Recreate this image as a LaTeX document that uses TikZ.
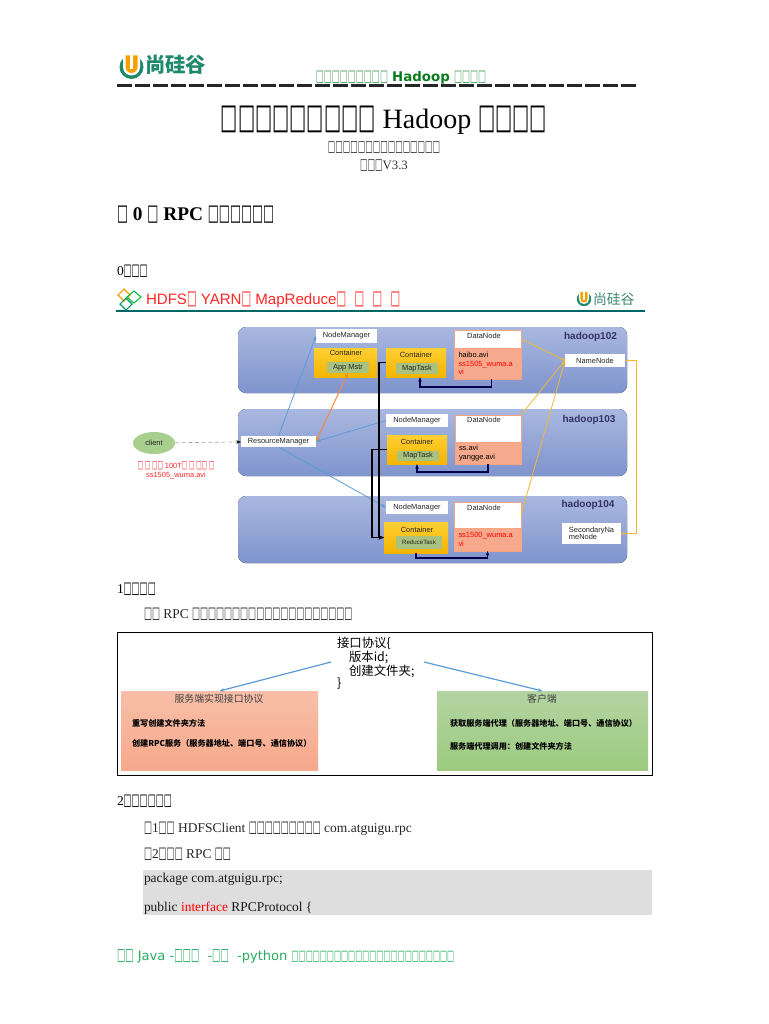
\documentclass[tikz,border=0pt]{standalone}
\usepackage{fontspec}
\usepackage{xcolor}
\usetikzlibrary{arrows.meta, shapes.geometric}
\setmainfont{Liberation Serif}
\newfontfamily\headfont{DejaVu Sans}
\newfontfamily\arialfont{Liberation Sans}
\newfontfamily\cjk{Noto Sans CJK SC}
\newfontfamily\boxfont[Scale=1.3,FakeStretch=.52]{DejaVu Sans}
\newcommand{\fsize}[1]{\fontsize{#1}{#1}\selectfont}
\newcommand{\tofu}[1]{{\boxfont #1}}
\newcommand{\btofu}[1]{{\fsize{9.4}\boxfont #1}}
\definecolor{logogreen}{HTML}{1F8A6B}
\definecolor{logoorange}{HTML}{F5A000}
\definecolor{headgreen}{HTML}{0B7A1E}
\definecolor{footgreen}{HTML}{2ECC71}
\definecolor{panellight}{HTML}{A9B8DF}
\definecolor{paneldark}{HTML}{7F94CD}
\definecolor{arrowblue}{HTML}{5B9BD5}
\definecolor{lineyellow}{HTML}{F5B731}
\definecolor{salmon}{HTML}{F6A98C}
\definecolor{goldtop}{HTML}{FFCF33}
\definecolor{goldlow}{HTML}{F5B400}
\definecolor{taskgreen}{HTML}{A9C27F}
\definecolor{clientgreen}{HTML}{A8CF8E}
\definecolor{greentop}{HTML}{B4D4A2}
\definecolor{greenlow}{HTML}{9CCB80}
\begin{document}
\begin{tikzpicture}[
  x=0.75pt, y=-0.75pt,
  every node/.style={inner sep=0pt, outer sep=0pt},
  dim/.style 2 args={minimum width=#1*0.75pt, minimum height=#2*0.75pt},
  bodytext/.style={anchor=base west, font=\fsize{10.1}},
  small/.style={font=\arialfont\fsize{5.6}, text=black!85},
  whitebox/.style={small, fill=white},
  panel/.style={rounded corners=6pt, top color=panellight, bottom color=paneldark},
  host/.style={font=\arialfont\bfseries\fsize{7.5}, text=black!70!blue!60!gray},
  contbox/.style={small, top color=goldtop, bottom color=goldlow},
  taskbox/.style={small, fill=taskgreen},
  dnlow/.style={font=\arialfont\fontsize{5.6}{6.4}\selectfont, fill=salmon, draw=salmon!90!orange, line width=0.4pt, align=left},
  dntop/.style={small, fill=white, draw=salmon!90!orange, line width=0.4pt},
  blueline/.style={draw=arrowblue, line width=0.6pt, -{Stealth[length=3.5pt]}},
  yellowline/.style={draw=lineyellow, line width=0.6pt, -{Stealth[length=3pt]}},
  blackline/.style={draw=black, line width=1.1pt, -{Stealth[length=4pt]}},
  elbow/.style={draw=black!70!blue, line width=1pt, -{Stealth[length=3.5pt]}},
  ulogo/.pic={
    \fill[logogreen] (0,0) circle (12);
    \fill[white] (-8.5,-13) -- (-8.5,0) arc[start angle=180, end angle=0, radius=8.5] -- (8.5,-13) -- cycle;
    \fill[logoorange] (-6,-11.5) -- (-6,0) arc[start angle=180, end angle=0, radius=6] -- (6,-11.5) -- cycle;
    \draw[white, line width=2pt] (0,-12) -- (0,2);
  }
]
\useasboundingbox (0,0) rectangle (768,1024);

\pic at (131.5,67) {ulogo};
\node[anchor=base west, font=\cjk\bfseries\fsize{15.3}, text=logogreen] (logotext) at (145,73) {尚硅谷};
\node[font=\headfont\fsize{10}, text=headgreen!70!white, anchor=base] (headtext) at (401,81)
  {{\fsize{9.4}\tofu{□□□□□□□□□}} \textcolor{headgreen}{\bfseries Hadoop} {\fsize{9.4}\tofu{□□□□}}};
\coordinate (ruleL) at (117,85.5);
\coordinate (ruleR) at (638,85.5);
\draw[black!85, line width=1.6pt, dash pattern=on 11.2pt off 2.3pt] (ruleL) -- (ruleR);

\node[anchor=base, font=\fsize{21}] (title) at (384,128)
  {{\fsize{20.2}\tofu{□□□□□□□□□}} Hadoop {\fsize{20.2}\tofu{□□□□}}};
\node[anchor=base, font=\fsize{8.8}, text=black!80] (subtitle) at (384,151) {\tofu{□□□□□□□□□□□□□□□}};
\node[anchor=base, font=\fsize{9.6}, text=black!80] (version) at (384,169) {{\fsize{8.8}\tofu{□□□}}V3.3};
\node[anchor=base west, font=\bfseries\fsize{14.5}] (section) at (117,220)
  {{\fsize{13}\tofu{□}} 0 {\fsize{13}\tofu{□}} RPC {\fsize{13}\tofu{□□□□□□}}};
\node[bodytext] (item0) at (117,275) {0\btofu{□□□}};

\node[anchor=west, font=\arialfont\fsize{11.3}, text=red!85!white] (bannertitle) at (146,299.5)
  {HDFS\tofu{□} YARN\tofu{□} MapReduce\tofu{□}\ \ \tofu{□}\ \ \tofu{□}\ \ \tofu{□}};
\draw[orange!80!yellow, line width=0.8pt] (124,289) -- (130,295) -- (124,301) -- (118,295) -- cycle;
\draw[green!50!teal, line width=0.8pt] (134,291) -- (141,297) -- (134,303) -- (127,297) -- cycle;
\draw[teal!80!green, line width=0.8pt] (126,298) -- (132,304) -- (126,310) -- (120,304) -- cycle;
\coordinate (bannerL) at (116,311);
\coordinate (bannerR) at (645,311);
\draw[teal!80!black, line width=0.9pt] (bannerL) -- (bannerR);
\pic[scale=0.6] at (584,299) {ulogo};
\node[anchor=west, font=\cjk\fsize{10.4}, text=logogreen!70!gray] (bannerlogo) at (593,299.5) {尚硅谷};

\fill[panel] (238,327) rectangle (627,393);
\fill[panel] (238,409) rectangle (627,476);
\fill[panel] (238,496) rectangle (627,563);
\node[host] (host1) at (590.5,337) {hadoop102};
\node[host] (host2) at (589,420) {hadoop103};
\node[host] (host3) at (588,505) {hadoop104};

\node[ellipse, fill=clientgreen, minimum width=31.5pt, minimum height=16.5pt, small] (client) at (154,443) {client};
\node[font=\arialfont\fsize{5.6}, text=red!85!white, align=center] (clientnote) at (176,470)
  {{\fsize{6.3}\tofu{□ □ □□}} 100T{\fsize{6.3}\tofu{□ □ □□ □}}\\[1pt]ss1505\_wuma.avi};
\node[whitebox, dim={75}{11}] (rm) at (278.5,441.5) {ResourceManager};

\node[whitebox, dim={61}{14}] (nm1) at (346.5,336) {NodeManager};
\node[contbox, dim={63}{29}] (ct1) at (345.5,362.5) {};
\node[small] (ct1label) at (346,353) {Container};
\node[taskbox, dim={42}{11}] (am) at (348,367.5) {App Mstr};
\node[contbox, dim={60}{29}] (ct2) at (416,362.5) {};
\node[small] (ct2label) at (416,355) {Container};
\node[taskbox, dim={42}{11}] (map1) at (417,368.5) {MapTask};
\node[dntop, dim={67}{18}] (dn1top) at (487.5,339) {};
\node[small] (dn1label) at (484,335.5) {DataNode};
\node[dnlow, dim={67}{31}, text width=58*0.75pt] (dn1low) at (487.5,363.5)
  {haibo.avi\\\textcolor{red}{ss1505\_wuma.a}\\\textcolor{red}{vi}};
\node[whitebox, dim={60}{13}] (nn) at (595,360.5) {NameNode};

\node[whitebox, dim={62}{13}] (nm2) at (417,420.5) {NodeManager};
\node[contbox, dim={60}{29}] (ct2b) at (417,449.5) {};
\node[small] (ct2blabel) at (417,441.5) {Container};
\node[taskbox, dim={42}{10}] (map2) at (418,456) {MapTask};
\node[dntop, dim={66}{27}] (dn2top) at (488,428.5) {};
\node[small] (dn2label) at (484,420) {DataNode};
\node[dnlow, dim={66}{22}, text width=58*0.75pt] (dn2low) at (488,453)
  {ss.avi\\yangge.avi};

\node[whitebox, dim={62}{13}] (nm3) at (417,507.5) {NodeManager};
\node[contbox, dim={64}{31}] (ct3) at (416,537.5) {};
\node[small] (ct3label) at (417,529.5) {Container};
\node[taskbox, dim={46}{13}, font=\arialfont\fsize{4.6}] (reduce) at (419,542.5) {ReduceTask};
\node[dntop, dim={67}{26}] (dn3top) at (487.5,515) {};
\node[small] (dn3label) at (484,508) {DataNode};
\node[dnlow, dim={67}{23}, text width=58*0.75pt, text=red] (dn3low) at (487.5,539.5)
  {ss1500\_wuma.a\\vi};
\node[whitebox, dim={59}{21}, align=left] (snn) at (591.5,533.5) {SecondaryNa\\meNode};

\draw[densely dashed, draw=gray!70, line width=0.5pt, -{Stealth[length=3.5pt, black]}] (client) -- (rm);
\draw[blueline] (rm.north) -- (nm1.west);
\draw[blueline] (nm2.west) -- (rm.east);
\draw[blueline] (rm.south) -- (nm3.west);
\draw[draw=orange!80!red!80!white, line width=0.7pt, {Stealth[length=3pt]}-{Stealth[length=3pt]}] (am.south) -- (rm.east);
\draw[blackline] (ct2.west) -- ++(-7,0) |- (ct3.west);
\draw[blackline] (ct2b.west) -- ++(-15,0) |- (ct3.west);
\draw[elbow] ([xshift=3pt]dn1low.south) -- ++(0,8) -| ([xshift=3pt]ct2.south);
\draw[elbow] (dn2low.south) -- ++(0,8) -| (ct2b.south);
\draw[elbow] (ct3.south) -- ++(0,5) -| (dn3low.south);
\draw[yellowline] (dn1top.east) -- (nn.west);
\draw[yellowline] (dn2top.north east) -- (nn.west);
\draw[yellowline] (dn3top.east) -- (nn.west);
\draw[draw=lineyellow, line width=0.6pt, {Stealth[length=2.5pt]}-{Stealth[length=2.5pt]}] (nn.east) -- ++(11,0) |- (snn.east);

\node[bodytext] (item1) at (117,593) {1\btofu{□□□□}};
\node[bodytext, text=black!85] (item1a) at (144,618) {\btofu{□□} RPC \btofu{□□□□□□□□□□□□□□□□□□□□}};

\draw[black, line width=0.7pt] (117,632) rectangle (652,775);
\node[anchor=north west, top color=salmon!75!white, bottom color=salmon, dim={197}{79}] (server) at (121,691) {};
\node[anchor=north west, top color=greentop, bottom color=greenlow, dim={211}{79}] (customer) at (437,691) {};
\node[anchor=north west, font=\cjk\fsize{9.3}, align=left] (protocol) at (337,637) {接口协议\{\\\hspace*{9pt}版本id;\\\hspace*{9pt}创建文件夹;\\\}};
\coordinate (protoL) at (331,662);
\coordinate (protoR) at (424,662);
\draw[blueline, line width=0.9pt] (protoL) -- (server.north);
\draw[blueline, line width=0.9pt] (protoR) -- (customer.north);
\node[font=\cjk\fsize{7.4}, text=black!75] (servertitle) at (219,699) {服务端实现接口协议};
\node[anchor=west, font=\cjk\bfseries\fsize{6.1}] (server1) at (132,723) {重写创建文件夹方法};
\node[anchor=west, font=\cjk\bfseries\fsize{6.1}] (server2) at (132,743) {创建RPC服务（服务器地址、端口号、通信协议）};
\node[font=\cjk\fsize{7.4}, text=black!75] (customertitle) at (542,699) {客户端};
\node[anchor=west, font=\cjk\bfseries\fsize{6.1}] (customer1) at (450,723) {获取服务端代理（服务器地址、端口号、通信协议）};
\node[anchor=west, font=\cjk\bfseries\fsize{6.1}] (customer2) at (450,746) {服务端代理调用：创建文件夹方法};

\node[bodytext] (item2) at (117,805) {2\btofu{□□□□□□}};
\node[bodytext, text=black!85] (step1) at (144,832) {\btofu{□}1\btofu{□□} HDFSClient \btofu{□□□□□□□□□} com.atguigu.rpc};
\node[bodytext, text=black!85] (step2) at (144,858) {\btofu{□}2\btofu{□□□} RPC \btofu{□□}};
\fill[black!13] (143,870) rectangle (652,915);
\node[bodytext, text=black!90] (code1) at (144,882) {package com.atguigu.rpc;};
\node[bodytext, text=black!90] (code2) at (144,911) {public \textcolor{red}{interface} RPCProtocol \{};

\node[anchor=base west, font=\headfont\fsize{9.8}, text=footgreen!85!black] (footer) at (117,960)
  {\tofu{□□} Java -\tofu{□□□}\hspace{3pt} -\tofu{□□}\hspace{3pt} -python {\fsize{8.3}\tofu{□□□□□□□□□□□□□□□□□□□□□□□}}};
\end{tikzpicture}
\end{document}
